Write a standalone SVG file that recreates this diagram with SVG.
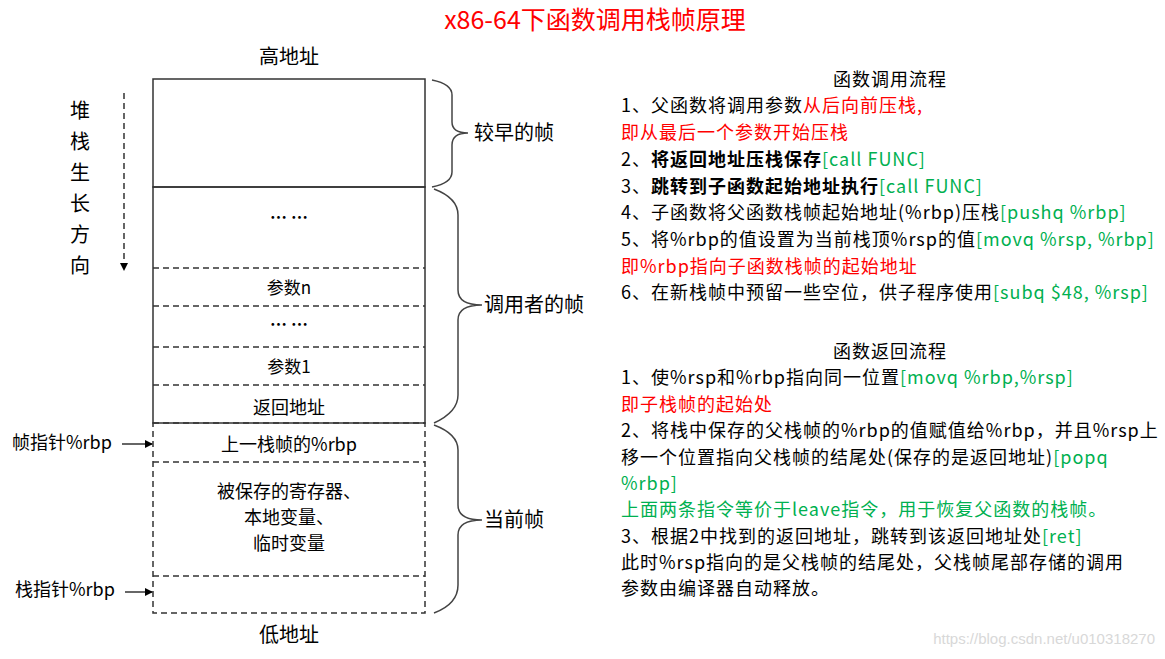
<svg xmlns="http://www.w3.org/2000/svg" width="1165" height="659" viewBox="0 0 1165 659">
<style>
text{font-family:"Microsoft YaHei","Noto Sans CJK SC","Liberation Sans",sans-serif;fill:#000}
.s{font-size:18px}
.m{font-size:17px}
.f{font-size:18px;letter-spacing:1px}
.b{font-size:20px}
.r{fill:#ff0000}
.g{fill:#00b050}
.bd{font-weight:bold}
.sol{fill:none;stroke:#333;stroke-width:1.5}
.dash{fill:none;stroke:#333;stroke-width:1.5;stroke-dasharray:6,4}
.br{fill:none;stroke:#444;stroke-width:1.5}
</style>
<defs><marker id="ah" markerWidth="8" markerHeight="8" refX="7" refY="4" orient="auto" markerUnits="userSpaceOnUse"><path d="M0,0L8,4L0,8z" fill="#000"/></marker></defs>
<rect width="1165" height="659" fill="#fff"/>
<text x="595" y="29" text-anchor="middle" class="r" style="font-size:25px">x86-64下函数调用栈帧原理</text>
<text x="289" y="64" text-anchor="middle" class="b">高地址</text>
<text x="289" y="642" text-anchor="middle" class="b">低地址</text>
<g id="stack">
<rect x="153" y="79" width="272" height="108" class="sol"/>
<rect x="153" y="187" width="272" height="236" class="sol"/>
<line x1="153" y1="268" x2="425" y2="268" class="dash"/>
<line x1="153" y1="306" x2="425" y2="306" class="dash"/>
<line x1="153" y1="347" x2="425" y2="347" class="dash"/>
<line x1="153" y1="385" x2="425" y2="385" class="dash"/>
<rect x="153" y="423" width="272" height="190" class="dash"/>
<line x1="153" y1="462" x2="425" y2="462" class="dash"/>
<line x1="153" y1="576" x2="425" y2="576" class="dash"/>
<text x="289" y="224" text-anchor="middle" class="m bd">… …</text>
<text x="289" y="294" text-anchor="middle" class="m">参数n</text>
<text x="289" y="331" text-anchor="middle" class="m bd">… …</text>
<text x="289" y="373" text-anchor="middle" class="m">参数1</text>
<text x="289" y="414" text-anchor="middle" class="s">返回地址</text>
<text x="289" y="451" text-anchor="middle" class="s">上一栈帧的%rbp</text>
<text x="289" y="498" text-anchor="middle" class="s">被保存的寄存器、</text>
<text x="289" y="524" text-anchor="middle" class="s">本地变量、</text>
<text x="289" y="550" text-anchor="middle" class="s">临时变量</text>
</g>
<g id="braces">
<path d="M432,80 Q452,84 452,95 V122 Q452,133 468,133 Q452,133 452,145 V172 Q452,183 432,187" class="br"/>
<text x="474" y="140" class="b">较早的帧</text>
<path d="M434,189 Q458,198 458,215 V290 Q458,305 482,305 Q458,305 458,320 V395 Q458,412 434,423" class="br"/>
<text x="484" y="312" class="b">调用者的帧</text>
<path d="M434,425 Q458,434 458,450 V505 Q458,520 482,520 Q458,520 458,535 V585 Q458,604 434,613" class="br"/>
<text x="484" y="527" class="b">当前帧</text>
</g>
<g id="growth">
<text class="b" x="80" y="118" text-anchor="middle">堆</text>
<text class="b" x="80" y="149" text-anchor="middle">栈</text>
<text class="b" x="80" y="180" text-anchor="middle">生</text>
<text class="b" x="80" y="211" text-anchor="middle">长</text>
<text class="b" x="80" y="242" text-anchor="middle">方</text>
<text class="b" x="80" y="273" text-anchor="middle">向</text>
</g>
<g id="connectors">
<line x1="124" y1="93" x2="124" y2="270" stroke="#333" stroke-width="1.5" stroke-dasharray="6,4" marker-end="url(#ah)"/>
<line x1="122" y1="444" x2="152" y2="444" stroke="#000" stroke-width="1.2" marker-end="url(#ah)"/>
<line x1="125" y1="592" x2="152" y2="592" stroke="#000" stroke-width="1.2" marker-end="url(#ah)"/>
</g>
<text x="12" y="449" class="s">帧指针%rbp</text>
<text x="15" y="596" class="s">栈指针%rbp</text>
<g id="flow">
<text x="890" y="86" text-anchor="middle" class="f">函数调用流程</text>
<text x="621" y="112" class="f">1、父函数将调用参数<tspan class="r">从后向前压栈,</tspan></text>
<text x="621" y="139" class="f r">即从最后一个参数开始压栈</text>
<text x="621" y="166" class="f">2、<tspan class="bd">将返回地址压栈保存</tspan><tspan class="g">[call FUNC]</tspan></text>
<text x="621" y="193" class="f">3、<tspan class="bd">跳转到子函数起始地址执行</tspan><tspan class="g">[call FUNC]</tspan></text>
<text x="621" y="219" class="f">4、子函数将父函数栈帧起始地址(%rbp)压栈<tspan class="g">[pushq %rbp]</tspan></text>
<text x="621" y="246" class="f">5、将%rbp的值设置为当前栈顶%rsp的值<tspan class="g">[movq %rsp, %rbp]</tspan></text>
<text x="621" y="273" class="f r">即%rbp指向子函数栈帧的起始地址</text>
<text x="621" y="299" class="f">6、在新栈帧中预留一些空位，供子程序使用<tspan class="g">[subq $48, %rsp]</tspan></text>
<text x="890" y="358" text-anchor="middle" class="f">函数返回流程</text>
<text x="621" y="384" class="f">1、使%rsp和%rbp指向同一位置<tspan class="g">[movq %rbp,%rsp]</tspan></text>
<text x="621" y="411" class="f r">即子栈帧的起始处</text>
<text x="621" y="437" class="f">2、将栈中保存的父栈帧的%rbp的值赋值给%rbp，并且%rsp上</text>
<text x="621" y="464" class="f">移一个位置指向父栈帧的结尾处(保存的是返回地址)<tspan class="g">[popq</tspan></text>
<text x="621" y="490" class="f g">%rbp]</text>
<text x="621" y="516" class="f g">上面两条指令等价于leave指令，用于恢复父函数的栈帧。</text>
<text x="621" y="543" class="f">3、根据2中找到的返回地址，跳转到该返回地址处<tspan class="g">[ret]</tspan></text>
<text x="621" y="569" class="f">此时%rsp指向的是父栈帧的结尾处，父栈帧尾部存储的调用</text>
<text x="621" y="595" class="f">参数由编译器自动释放。</text>
</g>
<text x="1155" y="644" text-anchor="end" style="font-size:15px;fill:#d8d8d8;font-family:'Liberation Sans',sans-serif">https://blog.csdn.net/u010318270</text>
</svg>
